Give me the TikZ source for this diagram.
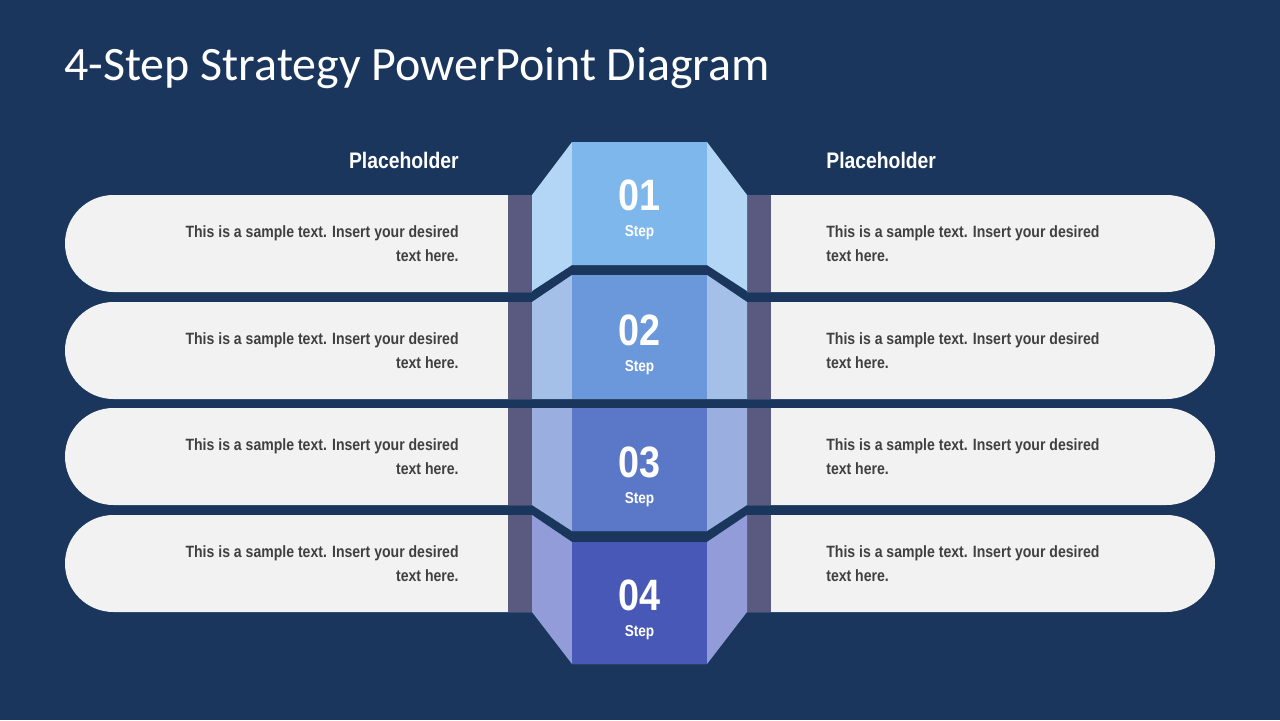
\documentclass[tikz,border=0pt]{standalone}
\usepackage{fontspec}
\setmainfont{Liberation Sans}[FakeStretch=0.86]
\newfontfamily\titlefont{Carlito}
\definecolor{navy-bg}{RGB}{26,54,93}
\definecolor{pill-grey}{RGB}{242,242,242}
\definecolor{bar-purple}{RGB}{90,90,128}
\definecolor{text-grey}{RGB}{64,64,64}
\definecolor{step-a}{RGB}{125,183,236}
\definecolor{side-a}{RGB}{179,214,247}
\definecolor{step-b}{RGB}{106,152,219}
\definecolor{side-b}{RGB}{164,192,233}
\definecolor{step-c}{RGB}{91,120,200}
\definecolor{side-c}{RGB}{155,174,224}
\definecolor{step-d}{RGB}{72,88,182}
\definecolor{side-d}{RGB}{145,156,216}
\begin{document}
\begin{tikzpicture}[%
    x=0.02cm,y=-0.02cm,
    sample/.style={text=text-grey,font=\fontsize{9.3}{13.5}\selectfont\bfseries,inner sep=0pt},
    heading/.style={text=white,font=\fontsize{12.8}{14}\selectfont\bfseries,inner sep=0pt},
    stepnum/.style={text=white,font=\fontsize{25}{26}\selectfont\bfseries,inner sep=0pt},
    steplbl/.style={text=white,font=\fontsize{9}{10}\selectfont\bfseries,inner sep=0pt}
  ]
  \fill [navy-bg] (0,0) rectangle (1280,720);
  \node [anchor=west,text=white,font=\titlefont\fontsize{27.3}{30}\selectfont,inner sep=0pt] (title) at (64,68) {4-Step Strategy PowerPoint Diagram};

  % rows: top, bottom
  \foreach \top/\bot [count=\i] in {195/292,302/399,408/505,515/612} {
    \fill [pill-grey] (532,\top) -- (113.5,\top) arc [start angle=-90,end angle=-270,radius=48.5] -- (532,\bot) -- cycle;
    \fill [pill-grey] (747,\top) -- (1166.5,\top) arc [start angle=-90,end angle=90,radius=48.5] -- (747,\bot) -- cycle;
    \fill [bar-purple] (508,\top) rectangle (532,\bot);
    \fill [bar-purple] (747,\top) rectangle (771,\bot);
    \node [sample,anchor=east,align=right] (left-\i) at (459,{(\top+\bot)/2}) {This is a sample text. Insert your desired\\text here.};
    \node [sample,anchor=west,align=left] (right-\i) at (826,{(\top+\bot)/2}) {This is a sample text. Insert your desired\\text here.};
  }
  \node [heading,anchor=east] (head-left) at (459,160) {Placeholder};
  \node [heading,anchor=west] (head-right) at (826,160) {Placeholder};

  % step column
  \fill [side-a] (532,195) -- (572,142) -- (707,142) -- (747,195) -- (747,291) -- (707,265) -- (572,265) -- (532,291) -- cycle;
  \fill [step-a] (572,142) rectangle (707,265);
  \fill [side-b] (532,302) -- (572,275) -- (707,275) -- (747,302) -- (747,399) -- (532,399) -- cycle;
  \fill [step-b] (572,275) rectangle (707,399);
  \fill [side-c] (532,408) -- (747,408) -- (747,505) -- (707,531) -- (572,531) -- (532,505) -- cycle;
  \fill [step-c] (572,408) rectangle (707,531);
  \fill [side-d] (532,515) -- (572,542) -- (707,542) -- (747,515) -- (747,612) -- (707,664) -- (572,664) -- (532,612) -- cycle;
  \fill [step-d] (572,542) rectangle (707,664);

  \foreach \n/\y in {01/203,02/338,03/470,04/603} {
    \node [stepnum] (num-\n) at (639.5,\y-8) {\n};
    \node [steplbl] (lbl-\n) at (639.5,\y+30) {Step};
  }
\end{tikzpicture}
\end{document}
